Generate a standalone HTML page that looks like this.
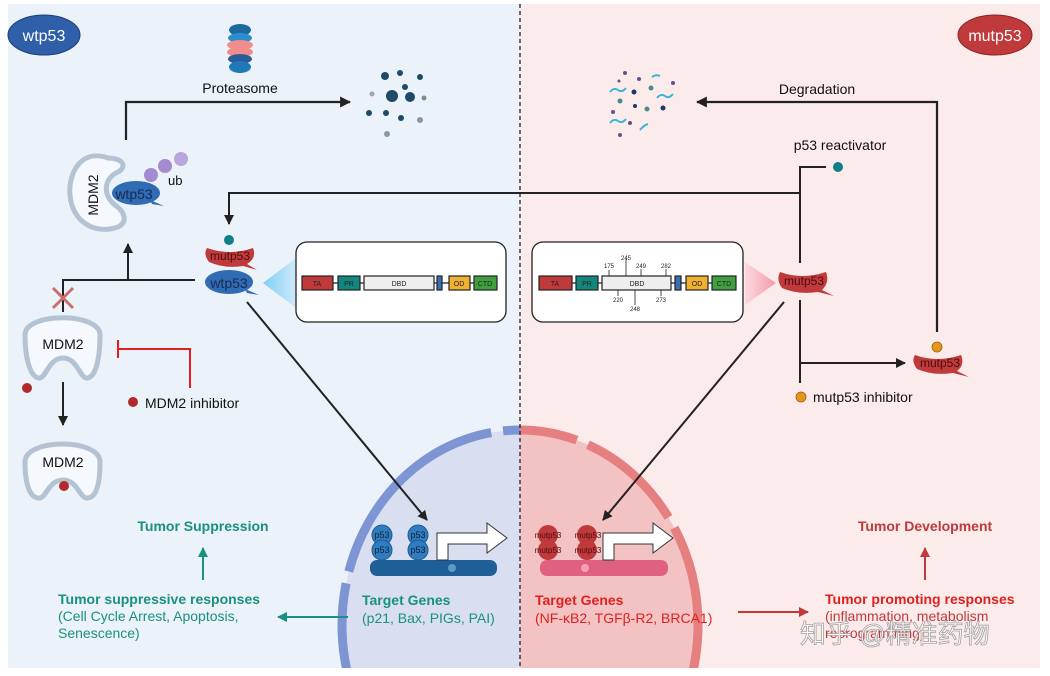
<!DOCTYPE html>
<html><head><meta charset="utf-8"><style>
html,body{margin:0;padding:0;background:#fff;overflow:hidden;width:1050px;height:676px}
svg{display:block}
text{font-family:"Liberation Sans","Noto Sans CJK SC",sans-serif}
</style></head><body>
<svg width="1050" height="676" viewBox="0 0 1050 676" xmlns="http://www.w3.org/2000/svg">
<defs>
<clipPath id="L"><rect x="0" y="0" width="520" height="676"/></clipPath>
<clipPath id="R"><rect x="520" y="0" width="530" height="676"/></clipPath>
<clipPath id="P"><rect x="8" y="4" width="1032" height="664"/></clipPath>
<linearGradient id="gb" x1="1" y1="0" x2="0" y2="0"><stop offset="0" stop-color="#cfe9fb"/><stop offset="1" stop-color="#7fd0f5"/></linearGradient>
<linearGradient id="gr" x1="0" y1="0" x2="1" y2="0"><stop offset="0" stop-color="#fbd9de"/><stop offset="1" stop-color="#f49aaa"/></linearGradient>
<marker id="ah" viewBox="0 0 10 10" refX="9" refY="5" markerWidth="5" markerHeight="5" orient="auto"><path d="M0,0L10,5L0,10z" fill="#222"/></marker>
<marker id="aht" viewBox="0 0 10 10" refX="9" refY="5" markerWidth="5" markerHeight="5" orient="auto"><path d="M0,0L10,5L0,10z" fill="#1a9080"/></marker>
<marker id="ahr" viewBox="0 0 10 10" refX="9" refY="5" markerWidth="5" markerHeight="5" orient="auto"><path d="M0,0L10,5L0,10z" fill="#c0393b"/></marker>
</defs>
<rect x="8" y="4" width="512" height="664" fill="#ebf2fa"/>
<rect x="520" y="4" width="520" height="664" fill="#fcebeb"/>

<!-- nucleus -->
<g clip-path="url(#P)">
<g clip-path="url(#L)"><ellipse cx="520" cy="625" rx="178" ry="195" fill="#d9dff1"/>
<ellipse cx="520" cy="625" rx="178" ry="195" fill="none" stroke="#7d95d2" stroke-width="9" stroke-dasharray="75 12 110 12 210 12"/></g>
<g clip-path="url(#R)"><ellipse cx="520" cy="625" rx="178" ry="195" fill="#f3c3c3"/>
<ellipse cx="520" cy="625" rx="178" ry="195" fill="none" stroke="#e57f80" stroke-width="9" stroke-dasharray="75 12 110 12 210 12"/></g>
</g>
<line x1="520" y1="4" x2="520" y2="668" stroke="#222" stroke-width="1.3" stroke-dasharray="4 3"/>

<!-- badges -->
<ellipse cx="44" cy="35" rx="36" ry="20" fill="#2f5fa8" stroke="#1f3f7a"/>
<text x="44" y="41" font-size="16" fill="#fff" text-anchor="middle">wtp53</text>
<ellipse cx="995" cy="35" rx="37" ry="20" fill="#c0393b" stroke="#8a2224"/>
<text x="995" y="41" font-size="16" fill="#fff" text-anchor="middle">mutp53</text>

<!-- proteasome -->
<g>
<ellipse cx="240" cy="30" rx="11" ry="6" fill="#1e6aa0"/>
<ellipse cx="240" cy="38" rx="12" ry="5" fill="#2a8fcc"/>
<ellipse cx="240" cy="45" rx="13" ry="5" fill="#f08c8c"/>
<ellipse cx="240" cy="52" rx="13" ry="5" fill="#f08c8c"/>
<ellipse cx="240" cy="59" rx="12" ry="5" fill="#2a5e98"/>
<ellipse cx="240" cy="67" rx="11" ry="6" fill="#1e7ab8"/>
</g>
<text x="240" y="93" font-size="14" fill="#111" text-anchor="middle">Proteasome</text>
<polyline points="126,140 126,102 350,102" fill="none" stroke="#222" stroke-width="2.2" marker-end="url(#ah)"/>
<!-- fragments -->
<g fill="#1d4a66">
<circle cx="385" cy="76" r="4"/><circle cx="400" cy="73" r="3"/><circle cx="420" cy="77" r="3"/>
<circle cx="392" cy="96" r="6"/><circle cx="410" cy="97" r="5"/><circle cx="405" cy="87" r="3"/>
<circle cx="369" cy="113" r="3"/><circle cx="386" cy="113" r="3"/><circle cx="401" cy="118" r="3"/>
<circle cx="424" cy="98" r="2.5" fill="#7d8d9a"/><circle cx="420" cy="120" r="3" fill="#8a97a3"/><circle cx="387" cy="134" r="3" fill="#8a97a3"/><circle cx="372" cy="94" r="2.5" fill="#9aa6b0"/>
</g>
<g fill="#6a4e8a">
<circle cx="625" cy="73" r="2"/><circle cx="639" cy="79" r="2"/><circle cx="673" cy="83" r="2"/><circle cx="619" cy="81" r="1.5"/>
<circle cx="613" cy="112" r="2"/><circle cx="630" cy="123" r="2"/><circle cx="620" cy="135" r="2"/>
<circle cx="634" cy="92" r="2.5" fill="#1d3a66"/><circle cx="663" cy="108" r="2.5" fill="#1d3a66"/><circle cx="635" cy="106" r="2" fill="#1d3a66"/>
<circle cx="620" cy="101" r="2.5" fill="#4a8a8a"/><circle cx="651" cy="88" r="2.5" fill="#4a8a8a"/><circle cx="647" cy="109" r="2.5" fill="#4a8a8a"/>
</g>
<g stroke="#3cb6d8" stroke-width="2" fill="none">
<path d="M610,92q4,-5 8,-2t8,-2"/><path d="M657,98q4,-5 8,-2t8,-2"/><path d="M610,123q4,-5 8,-2t8,-2"/><path d="M640,130q4,-5 8,-6"/><path d="M652,77q4,-3 8,-1"/>
</g>
<text x="817" y="94" font-size="14" fill="#111" text-anchor="middle">Degradation</text>
<polyline points="937,332 937,102 697,102" fill="none" stroke="#222" stroke-width="2.2" marker-end="url(#ah)"/>

<!-- MDM2 complex top -->
<path d="M108,158 C80,148 68,175 70,195 C72,222 95,235 118,227 C128,222 125,212 115,205 C102,195 104,178 118,172 C128,166 122,158 108,158Z" fill="#f5f8fc" stroke="#b3c3d3" stroke-width="5"/>
<text x="98" y="195" font-size="14" fill="#111" text-anchor="middle" transform="rotate(-90 98 195)">MDM2</text>
<ellipse cx="136" cy="193" rx="24" ry="12" fill="#2f6cb3"/>
<path d="M150,200 l14,6 l-12,-2z" fill="#2f6cb3"/>
<text x="134" y="199" font-size="14" fill="#1a2a55" text-anchor="middle">wtp53</text>
<circle cx="151" cy="175" r="7" fill="#a48ad0"/><circle cx="165" cy="166" r="7" fill="#a48ad0"/><circle cx="181" cy="159" r="7" fill="#b9a6dc"/>
<text x="168" y="185" font-size="13" fill="#111">ub</text>

<polyline points="800,193 229,193 229,224" fill="none" stroke="#222" stroke-width="2" marker-end="url(#ah)"/>
<circle cx="229" cy="240" r="5" fill="#0e7f86"/>
<path d="M207,248 q23,8 46,0 q4,10 -6,16 l10,6 l-14,-4 q-18,3 -34,-4 q-6,-8 -2,-14z" fill="#c0393b"/>
<text x="230" y="260" font-size="12" fill="#4a0f10" text-anchor="middle">mutp53</text>
<ellipse cx="229" cy="282" rx="24" ry="12" fill="#2f6cb3"/>
<path d="M245,289 l14,6 l-12,-2z" fill="#2f6cb3"/>
<text x="229" y="288" font-size="14" fill="#1a2a55" text-anchor="middle">wtp53</text>

<polyline points="195,280 63,280 63,312" fill="none" stroke="#222" stroke-width="2"/>
<line x1="128" y1="280" x2="128" y2="244" stroke="#222" stroke-width="2" marker-end="url(#ah)"/>
<path d="M53,288 L73,308 M73,288 L53,308" stroke="#c87070" stroke-width="3"/>

<!-- boxes -->
<polygon points="263,283 296,258 296,308" fill="url(#gb)"/>
<rect x="296" y="242" width="210" height="80" rx="11" fill="#fff" stroke="#222" stroke-width="1.3"/>
<line x1="302" y1="283" x2="497" y2="283" stroke="#222" stroke-width="1.2"/>
<g stroke="#222" stroke-width="1.2">
<rect x="302" y="276" width="31" height="14" fill="#c0393b"/>
<rect x="338" y="276" width="22" height="14" fill="#13877d"/>
<rect x="364" y="276" width="70" height="14" fill="#eeeeee"/>
<rect x="437" y="276" width="5" height="14" fill="#3a6fb0"/>
<rect x="449" y="276" width="21" height="14" fill="#f0b030"/>
<rect x="474" y="276" width="23" height="14" fill="#40a040"/>
</g>
<g font-size="7" text-anchor="middle" fill="#222"><text x="317" y="286">TA</text><text x="349" y="286">PR</text><text x="399" y="286">DBD</text><text x="459" y="286">OD</text><text x="485" y="286">CTD</text></g>

<polygon points="776,283 745,262 745,305" fill="url(#gr)"/>
<rect x="532" y="242" width="211" height="80" rx="11" fill="#fff" stroke="#222" stroke-width="1.3"/>
<line x1="539" y1="283" x2="736" y2="283" stroke="#222" stroke-width="1.2"/>
<g stroke="#222" stroke-width="1.2">
<rect x="539" y="276" width="33" height="14" fill="#c0393b"/>
<rect x="576" y="276" width="22" height="14" fill="#13877d"/>
<rect x="602" y="276" width="69" height="14" fill="#eeeeee"/>
<rect x="675" y="276" width="6" height="14" fill="#3a6fb0"/>
<rect x="686" y="276" width="22" height="14" fill="#f0b030"/>
<rect x="712" y="276" width="24" height="14" fill="#40a040"/>
<path d="M609,276v-6M626,276v-17M641,276v-7M666,276v-7M618,290v6M635,290v15M661,290v6" stroke-width="0.8"/>
</g>
<g font-size="7" text-anchor="middle" fill="#222"><text x="555" y="286">TA</text><text x="587" y="286">PR</text><text x="637" y="286">DBD</text><text x="697" y="286">OD</text><text x="724" y="286">CTD</text>
<text x="609" y="268" font-size="6">175</text><text x="626" y="260" font-size="6">245</text><text x="641" y="268" font-size="6">249</text><text x="666" y="268" font-size="6">282</text>
<text x="618" y="302" font-size="6">220</text><text x="635" y="311" font-size="6">248</text><text x="661" y="302" font-size="6">273</text></g>

<!-- right mutp53 -->
<path d="M780,272 q22,8 46,0 q4,10 -4,18 l12,6 l-16,-4 q-20,3 -36,-4 q-6,-8 -2,-16z" fill="#c0393b"/>
<text x="804" y="285" font-size="12" fill="#4a0f10" text-anchor="middle">mutp53</text>
<polyline points="800,263 800,167 826,167" fill="none" stroke="#222" stroke-width="2"/>
<circle cx="838" cy="167" r="5" fill="#0e7f86"/>
<text x="840" y="150" font-size="14" fill="#111" text-anchor="middle">p53 reactivator</text>
<line x1="800" y1="300" x2="800" y2="383" stroke="#222" stroke-width="2"/>
<line x1="800" y1="363" x2="905" y2="363" stroke="#222" stroke-width="2" marker-end="url(#ah)"/>
<circle cx="937" cy="347" r="5" fill="#e5961a" stroke="#a06010" stroke-width="0.8"/>
<path d="M915,355 q22,8 46,0 q4,10 -4,16 l12,6 l-16,-4 q-20,3 -36,-4 q-6,-8 -2,-14z" fill="#c0393b"/>
<text x="940" y="367" font-size="12" fill="#4a0f10" text-anchor="middle">mutp53</text>
<circle cx="801" cy="397" r="5" fill="#e5961a" stroke="#a06010" stroke-width="0.8"/>
<text x="813" y="402" font-size="14" fill="#111">mutp53 inhibitor</text>

<!-- MDM2 left -->
<path d="M25,335 C25,312 100,312 100,335 C100,355 97,375 88,378 C80,380 78,358 63,358 C48,358 46,380 38,378 C29,375 25,355 25,335Z" fill="#f5f8fc" stroke="#b3c3d3" stroke-width="5"/>
<text x="63" y="349" font-size="14" fill="#111" text-anchor="middle">MDM2</text>
<circle cx="27" cy="388" r="5" fill="#b02a2a"/>
<line x1="63" y1="382" x2="63" y2="425" stroke="#222" stroke-width="2" marker-end="url(#ah)"/>
<path d="M25,462 C25,438 100,438 100,462 C100,482 97,497 88,498 C80,500 78,480 63,480 C48,480 46,500 38,498 C29,497 25,482 25,462Z" fill="#f5f8fc" stroke="#b3c3d3" stroke-width="5"/>
<text x="63" y="467" font-size="14" fill="#111" text-anchor="middle">MDM2</text>
<circle cx="64" cy="486" r="5" fill="#b02a2a"/>
<polyline points="190,388 190,349 118,349" fill="none" stroke="#e02020" stroke-width="2"/>
<line x1="118" y1="340" x2="118" y2="358" stroke="#e02020" stroke-width="2"/>
<circle cx="133" cy="402" r="5" fill="#b02a2a"/>
<text x="145" y="408" font-size="14" fill="#111">MDM2 inhibitor</text>

<!-- diagonal arrows -->
<line x1="247" y1="302" x2="427" y2="520" stroke="#222" stroke-width="2" marker-end="url(#ah)"/>
<line x1="784" y1="302" x2="603" y2="520" stroke="#222" stroke-width="2" marker-end="url(#ah)"/>

<!-- p53 tetramer -->
<g fill="#2f7cc0" stroke="#1e5a90"><circle cx="382" cy="535" r="10"/><circle cx="418" cy="535" r="10"/><circle cx="382" cy="550" r="10"/><circle cx="418" cy="550" r="10"/></g>
<g font-size="9" fill="#123" text-anchor="middle"><text x="382" y="538">p53</text><text x="418" y="538">p53</text><text x="382" y="553">p53</text><text x="418" y="553">p53</text></g>
<rect x="370" y="560" width="127" height="16" rx="7" fill="#1d5f96"/>
<circle cx="452" cy="568" r="4" fill="#5c9ac4"/>
<path d="M437,560 V533 H487 V523 L507,538 L487,553 V544 H448 V560Z" fill="#fff" stroke="#333"/>
<!-- mutp53 tetramer -->
<g fill="#c0393b"><circle cx="548" cy="535" r="10"/><circle cx="587" cy="535" r="10"/><circle cx="548" cy="550" r="10"/><circle cx="587" cy="550" r="10"/></g>
<g font-size="8" fill="#4a0f10" text-anchor="middle"><text x="548" y="538">mutp53</text><text x="588" y="538">mutp53</text><text x="548" y="553">mutp53</text><text x="588" y="553">mutp53</text></g>
<rect x="540" y="560" width="128" height="16" rx="7" fill="#e06080"/>
<circle cx="585" cy="568" r="4" fill="#f4a0b4"/>
<path d="M603,560 V533 H653 V523 L673,538 L653,553 V544 H614 V560Z" fill="#fff" stroke="#333"/>

<!-- bottom text -->
<text x="203" y="531" font-size="14" font-weight="bold" fill="#1a9080" text-anchor="middle">Tumor Suppression</text>
<line x1="203" y1="580" x2="203" y2="548" stroke="#1a9080" stroke-width="2" marker-end="url(#aht)"/>
<text x="58" y="604" font-size="14" font-weight="bold" fill="#1a9080">Tumor suppressive responses</text>
<text x="58" y="621" font-size="14" fill="#1a9080">(Cell Cycle Arrest, Apoptosis,</text>
<text x="58" y="638" font-size="14" fill="#1a9080">Senescence)</text>
<line x1="348" y1="617" x2="278" y2="617" stroke="#1a9080" stroke-width="2" marker-end="url(#aht)"/>
<text x="362" y="605" font-size="14" font-weight="bold" fill="#1a9080">Target Genes</text>
<text x="362" y="623" font-size="14" fill="#1a9080">(p21, Bax, PIGs, PAI)</text>
<text x="535" y="605" font-size="14" font-weight="bold" fill="#e02020">Target Genes</text>
<text x="535" y="623" font-size="14" fill="#e02020">(NF-κB2, TGFβ-R2, BRCA1)</text>
<line x1="738" y1="612" x2="808" y2="612" stroke="#c0393b" stroke-width="2" marker-end="url(#ahr)"/>
<text x="925" y="531" font-size="14" font-weight="bold" fill="#c0393b" text-anchor="middle">Tumor Development</text>
<line x1="925" y1="580" x2="925" y2="548" stroke="#c0393b" stroke-width="2" marker-end="url(#ahr)"/>
<text x="825" y="604" font-size="14" font-weight="bold" fill="#e02020">Tumor promoting responses</text>
<text x="825" y="621" font-size="14" fill="#c0393b">(inflammation, metabolism</text>
<text x="825" y="638" font-size="14" fill="#c0393b">reprogramming)</text>
<text x="800" y="643" font-size="26" fill="#fff" stroke="#999" stroke-width="0.8" opacity="0.9">知乎 @精准药物</text>
</svg>
</body></html>
